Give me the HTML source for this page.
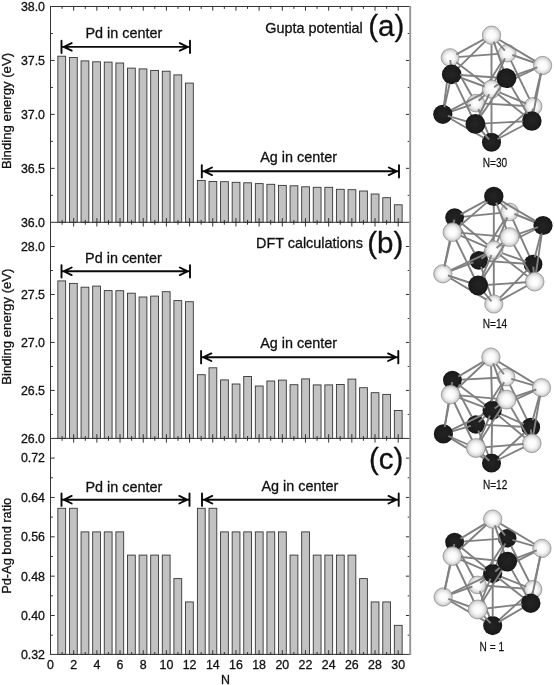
<!DOCTYPE html>
<html lang="en"><head><meta charset="utf-8"><title>Binding energy figure</title>
<style>html,body{margin:0;padding:0;background:#fff}body{width:554px;height:685px;overflow:hidden}svg{display:block}text{font-family:"Liberation Sans",Arial,Helvetica,sans-serif;fill:#111;stroke:#111;stroke-width:0.3px}</style></head><body>
<svg width="554" height="685" viewBox="0 0 554 685">
<defs>
<radialGradient id="gw" cx="50%" cy="50%" r="50%"><stop offset="0" stop-color="#ffffff"/><stop offset="0.45" stop-color="#f9f9f9"/><stop offset="0.72" stop-color="#e4e4e4"/><stop offset="0.9" stop-color="#cccccc"/><stop offset="1" stop-color="#b4b4b4"/></radialGradient>
<radialGradient id="gb" cx="50%" cy="50%" r="50%"><stop offset="0" stop-color="#242424"/><stop offset="0.8" stop-color="#1c1c1c"/><stop offset="1" stop-color="#161616"/></radialGradient>
</defs>
<rect width="554" height="685" fill="#fff"/>
<g fill="#c2c2c2" stroke="#363636" stroke-width="0.9">
<rect x="57.85" y="56.20" width="7.8" height="166.10"/>
<rect x="69.46" y="57.50" width="7.8" height="164.80"/>
<rect x="81.06" y="60.90" width="7.8" height="161.40"/>
<rect x="92.67" y="61.80" width="7.8" height="160.50"/>
<rect x="104.28" y="62.10" width="7.8" height="160.20"/>
<rect x="115.88" y="63.00" width="7.8" height="159.30"/>
<rect x="127.48" y="68.10" width="7.8" height="154.20"/>
<rect x="139.09" y="68.90" width="7.8" height="153.40"/>
<rect x="150.69" y="70.40" width="7.8" height="151.90"/>
<rect x="162.30" y="71.20" width="7.8" height="151.10"/>
<rect x="173.91" y="74.90" width="7.8" height="147.40"/>
<rect x="185.51" y="83.10" width="7.8" height="139.20"/>
<rect x="197.40" y="180.40" width="7.8" height="41.90"/>
<rect x="208.99" y="181.50" width="7.8" height="40.80"/>
<rect x="220.57" y="181.70" width="7.8" height="40.60"/>
<rect x="232.16" y="182.30" width="7.8" height="40.00"/>
<rect x="243.74" y="182.80" width="7.8" height="39.50"/>
<rect x="255.33" y="183.60" width="7.8" height="38.70"/>
<rect x="266.91" y="184.30" width="7.8" height="38.00"/>
<rect x="278.50" y="185.40" width="7.8" height="36.90"/>
<rect x="290.08" y="185.80" width="7.8" height="36.50"/>
<rect x="301.67" y="186.80" width="7.8" height="35.50"/>
<rect x="313.25" y="187.30" width="7.8" height="35.00"/>
<rect x="324.84" y="187.30" width="7.8" height="35.00"/>
<rect x="336.42" y="189.30" width="7.8" height="33.00"/>
<rect x="348.01" y="189.70" width="7.8" height="32.60"/>
<rect x="359.59" y="191.00" width="7.8" height="31.30"/>
<rect x="371.18" y="194.00" width="7.8" height="28.30"/>
<rect x="382.76" y="197.70" width="7.8" height="24.60"/>
<rect x="394.35" y="204.80" width="7.8" height="17.50"/>
<rect x="57.85" y="280.90" width="7.8" height="157.50"/>
<rect x="69.46" y="283.40" width="7.8" height="155.00"/>
<rect x="81.06" y="287.20" width="7.8" height="151.20"/>
<rect x="92.67" y="286.10" width="7.8" height="152.30"/>
<rect x="104.28" y="290.60" width="7.8" height="147.80"/>
<rect x="115.88" y="290.70" width="7.8" height="147.70"/>
<rect x="127.48" y="293.20" width="7.8" height="145.20"/>
<rect x="139.09" y="297.00" width="7.8" height="141.40"/>
<rect x="150.69" y="296.10" width="7.8" height="142.30"/>
<rect x="162.30" y="291.70" width="7.8" height="146.70"/>
<rect x="173.91" y="300.60" width="7.8" height="137.80"/>
<rect x="185.51" y="301.70" width="7.8" height="136.70"/>
<rect x="197.40" y="374.70" width="7.8" height="63.70"/>
<rect x="208.99" y="367.80" width="7.8" height="70.60"/>
<rect x="220.57" y="379.90" width="7.8" height="58.50"/>
<rect x="232.16" y="384.00" width="7.8" height="54.40"/>
<rect x="243.74" y="376.50" width="7.8" height="61.90"/>
<rect x="255.33" y="386.00" width="7.8" height="52.40"/>
<rect x="266.91" y="381.00" width="7.8" height="57.40"/>
<rect x="278.50" y="380.10" width="7.8" height="58.30"/>
<rect x="290.08" y="384.70" width="7.8" height="53.70"/>
<rect x="301.67" y="378.90" width="7.8" height="59.50"/>
<rect x="313.25" y="384.90" width="7.8" height="53.50"/>
<rect x="324.84" y="384.90" width="7.8" height="53.50"/>
<rect x="336.42" y="384.50" width="7.8" height="53.90"/>
<rect x="348.01" y="379.10" width="7.8" height="59.30"/>
<rect x="359.59" y="387.70" width="7.8" height="50.70"/>
<rect x="371.18" y="392.70" width="7.8" height="45.70"/>
<rect x="382.76" y="394.40" width="7.8" height="44.00"/>
<rect x="394.35" y="410.50" width="7.8" height="27.90"/>
<rect x="57.85" y="508.27" width="7.8" height="146.13"/>
<rect x="69.46" y="508.27" width="7.8" height="146.13"/>
<rect x="81.06" y="531.88" width="7.8" height="122.52"/>
<rect x="92.67" y="531.88" width="7.8" height="122.52"/>
<rect x="104.28" y="531.88" width="7.8" height="122.52"/>
<rect x="115.88" y="531.88" width="7.8" height="122.52"/>
<rect x="127.48" y="555.10" width="7.8" height="99.30"/>
<rect x="139.09" y="555.10" width="7.8" height="99.30"/>
<rect x="150.69" y="555.10" width="7.8" height="99.30"/>
<rect x="162.30" y="555.10" width="7.8" height="99.30"/>
<rect x="173.91" y="578.61" width="7.8" height="75.79"/>
<rect x="185.51" y="601.93" width="7.8" height="52.47"/>
<rect x="197.40" y="508.27" width="7.8" height="146.13"/>
<rect x="208.99" y="508.27" width="7.8" height="146.13"/>
<rect x="220.57" y="531.88" width="7.8" height="122.52"/>
<rect x="232.16" y="531.88" width="7.8" height="122.52"/>
<rect x="243.74" y="531.88" width="7.8" height="122.52"/>
<rect x="255.33" y="531.88" width="7.8" height="122.52"/>
<rect x="266.91" y="531.88" width="7.8" height="122.52"/>
<rect x="278.50" y="531.88" width="7.8" height="122.52"/>
<rect x="290.08" y="555.10" width="7.8" height="99.30"/>
<rect x="301.67" y="531.88" width="7.8" height="122.52"/>
<rect x="313.25" y="555.10" width="7.8" height="99.30"/>
<rect x="324.84" y="555.10" width="7.8" height="99.30"/>
<rect x="336.42" y="555.10" width="7.8" height="99.30"/>
<rect x="348.01" y="555.10" width="7.8" height="99.30"/>
<rect x="359.59" y="578.61" width="7.8" height="75.79"/>
<rect x="371.18" y="601.93" width="7.8" height="52.47"/>
<rect x="382.76" y="601.93" width="7.8" height="52.47"/>
<rect x="394.35" y="625.34" width="7.8" height="29.06"/>
</g>
<g stroke="#333" stroke-width="1" fill="none" stroke-linecap="butt">
<path d="M50.5 6.5V654.4M50.0 6.5H410.2M50.5 222.3H410.2M50.5 438.4H410.2M50.0 654.4H411.2"/>
<path d="M62.09 6.5v2.4M62.09 219.9v4.8M62.09 436.0v4.8M62.09 654.4v-2.4M73.68 6.5v4.2M73.68 218.10000000000002v8.4M73.68 434.2v8.4M73.68 654.4v-4.2M85.27 6.5v2.4M85.27 219.9v4.8M85.27 436.0v4.8M85.27 654.4v-2.4M96.86 6.5v4.2M96.86 218.10000000000002v8.4M96.86 434.2v8.4M96.86 654.4v-4.2M108.45 6.5v2.4M108.45 219.9v4.8M108.45 436.0v4.8M108.45 654.4v-2.4M120.04 6.5v4.2M120.04 218.10000000000002v8.4M120.04 434.2v8.4M120.04 654.4v-4.2M131.63 6.5v2.4M131.63 219.9v4.8M131.63 436.0v4.8M131.63 654.4v-2.4M143.22 6.5v4.2M143.22 218.10000000000002v8.4M143.22 434.2v8.4M143.22 654.4v-4.2M154.81 6.5v2.4M154.81 219.9v4.8M154.81 436.0v4.8M154.81 654.4v-2.4M166.40 6.5v4.2M166.40 218.10000000000002v8.4M166.40 434.2v8.4M166.40 654.4v-4.2M177.99 6.5v2.4M177.99 219.9v4.8M177.99 436.0v4.8M177.99 654.4v-2.4M189.58 6.5v4.2M189.58 218.10000000000002v8.4M189.58 434.2v8.4M189.58 654.4v-4.2M201.17 6.5v2.4M201.17 219.9v4.8M201.17 436.0v4.8M201.17 654.4v-2.4M212.76 6.5v4.2M212.76 218.10000000000002v8.4M212.76 434.2v8.4M212.76 654.4v-4.2M224.35 6.5v2.4M224.35 219.9v4.8M224.35 436.0v4.8M224.35 654.4v-2.4M235.94 6.5v4.2M235.94 218.10000000000002v8.4M235.94 434.2v8.4M235.94 654.4v-4.2M247.53 6.5v2.4M247.53 219.9v4.8M247.53 436.0v4.8M247.53 654.4v-2.4M259.12 6.5v4.2M259.12 218.10000000000002v8.4M259.12 434.2v8.4M259.12 654.4v-4.2M270.71 6.5v2.4M270.71 219.9v4.8M270.71 436.0v4.8M270.71 654.4v-2.4M282.30 6.5v4.2M282.30 218.10000000000002v8.4M282.30 434.2v8.4M282.30 654.4v-4.2M293.89 6.5v2.4M293.89 219.9v4.8M293.89 436.0v4.8M293.89 654.4v-2.4M305.48 6.5v4.2M305.48 218.10000000000002v8.4M305.48 434.2v8.4M305.48 654.4v-4.2M317.07 6.5v2.4M317.07 219.9v4.8M317.07 436.0v4.8M317.07 654.4v-2.4M328.66 6.5v4.2M328.66 218.10000000000002v8.4M328.66 434.2v8.4M328.66 654.4v-4.2M340.25 6.5v2.4M340.25 219.9v4.8M340.25 436.0v4.8M340.25 654.4v-2.4M351.84 6.5v4.2M351.84 218.10000000000002v8.4M351.84 434.2v8.4M351.84 654.4v-4.2M363.43 6.5v2.4M363.43 219.9v4.8M363.43 436.0v4.8M363.43 654.4v-2.4M375.02 6.5v4.2M375.02 218.10000000000002v8.4M375.02 434.2v8.4M375.02 654.4v-4.2M386.61 6.5v2.4M386.61 219.9v4.8M386.61 436.0v4.8M386.61 654.4v-2.4M398.20 6.5v4.2M398.20 218.10000000000002v8.4M398.20 434.2v8.4M398.20 654.4v-4.2"/>
<path d="M50.5 33.48h2.4M409.3 33.48h-1.6M50.5 60.45h4.2M409.3 60.45h-3.4M50.5 87.43h2.4M409.3 87.43h-1.6M50.5 114.40h4.2M409.3 114.40h-3.4M50.5 141.38h2.4M409.3 141.38h-1.6M50.5 168.35h4.2M409.3 168.35h-3.4M50.5 195.33h2.4M409.3 195.33h-1.6M50.5 246.50h4.2M409.3 246.50h-3.4M50.5 270.49h2.4M409.3 270.49h-1.6M50.5 294.48h4.2M409.3 294.48h-3.4M50.5 318.46h2.4M409.3 318.46h-1.6M50.5 342.45h4.2M409.3 342.45h-3.4M50.5 366.44h2.4M409.3 366.44h-1.6M50.5 390.42h4.2M409.3 390.42h-3.4M50.5 414.41h2.4M409.3 414.41h-1.6M50.5 458.10h4.2M409.3 458.10h-3.4M50.5 477.78h2.4M409.3 477.78h-1.6M50.5 497.45h4.2M409.3 497.45h-3.4M50.5 517.13h2.4M409.3 517.13h-1.6M50.5 536.80h4.2M409.3 536.80h-3.4M50.5 556.48h2.4M409.3 556.48h-1.6M50.5 576.16h4.2M409.3 576.16h-3.4M50.5 595.83h2.4M409.3 595.83h-1.6M50.5 615.51h4.2M409.3 615.51h-3.4M50.5 635.18h2.4M409.3 635.18h-1.6"/>
</g>
<path d="M410.2 6.0V654.9" stroke="#959595" stroke-width="1.9" fill="none"/>
<g font-size="12.4" text-anchor="end">
<text x="45" y="10.8">38.0</text>
<text x="45" y="64.8">37.5</text>
<text x="45" y="118.7">37.0</text>
<text x="45" y="172.7">36.5</text>
<text x="45" y="226.6">36.0</text>
<text x="45" y="250.6">28.0</text>
<text x="45" y="298.6">27.5</text>
<text x="45" y="346.6">27.0</text>
<text x="45" y="394.5">26.5</text>
<text x="45" y="442.5">26.0</text>
<text x="45" y="462.4">0.72</text>
<text x="45" y="501.8">0.64</text>
<text x="45" y="541.1">0.56</text>
<text x="45" y="580.5">0.48</text>
<text x="45" y="619.8">0.40</text>
<text x="45" y="659.2">0.32</text>
</g>
<g font-size="12.4" text-anchor="middle">
<text x="50.5" y="669.3">0</text>
<text x="73.7" y="669.3">2</text>
<text x="96.9" y="669.3">4</text>
<text x="120.0" y="669.3">6</text>
<text x="143.2" y="669.3">8</text>
<text x="166.4" y="669.3">10</text>
<text x="189.6" y="669.3">12</text>
<text x="212.8" y="669.3">14</text>
<text x="235.9" y="669.3">16</text>
<text x="259.1" y="669.3">18</text>
<text x="282.3" y="669.3">20</text>
<text x="305.5" y="669.3">22</text>
<text x="328.7" y="669.3">24</text>
<text x="351.8" y="669.3">26</text>
<text x="375.0" y="669.3">28</text>
<text x="398.2" y="669.3">30</text>
<text x="225.4" y="683.5">N</text>
</g>
<g font-size="13.15" text-anchor="middle">
<text transform="translate(10.8 111) rotate(-90)">Binding energy (eV)</text>
<text transform="translate(10.8 326.6) rotate(-90)">Binding energy (eV)</text>
<text transform="translate(10.8 545.8) rotate(-90)" font-size="12.8">Pd-Ag bond ratio</text>
</g>
<g font-size="14.4">
<text x="265.2" y="33.2">Gupta potential</text>
<text x="256" y="247.7">DFT calculations</text>
</g>
<g font-size="29.5">
<text x="368.3" y="36.2">(a)</text>
<text x="367.3" y="252.5">(b)</text>
<text x="369" y="469.2">(c)</text>
</g>
<path d="M61.5 40.699999999999996v12.4M190.0 40.699999999999996v12.4M62.7 46.9H188.8M71.7 43.1L63.8 46.9L71.7 50.699999999999996M179.8 43.1L187.7 46.9L179.8 50.699999999999996" stroke="#0a0a0a" stroke-width="1.9" fill="none" stroke-linecap="round" stroke-linejoin="miter"/>
<text x="123.8" y="37.9" font-size="14.4" text-anchor="middle">Pd in center</text>
<path d="M201.8 165.10000000000002v12.4M399.0 165.10000000000002v12.4M203.0 171.3H397.8M212.0 167.5L204.1 171.3L212.0 175.10000000000002M388.8 167.5L396.7 171.3L388.8 175.10000000000002" stroke="#0a0a0a" stroke-width="1.9" fill="none" stroke-linecap="round" stroke-linejoin="miter"/>
<text x="298.6" y="162.0" font-size="14.4" text-anchor="middle">Ag in center</text>
<path d="M61.5 265.1v12.4M190.0 265.1v12.4M62.7 271.3H188.8M71.7 267.5L63.8 271.3L71.7 275.1M179.8 267.5L187.7 271.3L179.8 275.1" stroke="#0a0a0a" stroke-width="1.9" fill="none" stroke-linecap="round" stroke-linejoin="miter"/>
<text x="123.5" y="262.8" font-size="14.4" text-anchor="middle">Pd in center</text>
<path d="M201.1 351.0v12.4M398.3 351.0v12.4M202.3 357.2H397.1M211.3 353.4L203.4 357.2L211.3 361.0M388.1 353.4L396.0 357.2L388.1 361.0" stroke="#0a0a0a" stroke-width="1.9" fill="none" stroke-linecap="round" stroke-linejoin="miter"/>
<text x="298.6" y="348.3" font-size="14.4" text-anchor="middle">Ag in center</text>
<path d="M61.5 493.5v12.4M189.5 493.5v12.4M62.7 499.7H188.3M71.7 495.9L63.8 499.7L71.7 503.5M179.3 495.9L187.2 499.7L179.3 503.5" stroke="#0a0a0a" stroke-width="1.9" fill="none" stroke-linecap="round" stroke-linejoin="miter"/>
<text x="123.8" y="491.9" font-size="14.4" text-anchor="middle">Pd in center</text>
<path d="M202.0 493.5v12.4M398.7 493.5v12.4M203.2 499.7H397.5M212.2 495.9L204.3 499.7L212.2 503.5M388.5 495.9L396.4 499.7L388.5 503.5" stroke="#0a0a0a" stroke-width="1.9" fill="none" stroke-linecap="round" stroke-linejoin="miter"/>
<text x="299.8" y="491.2" font-size="14.4" text-anchor="middle">Ag in center</text>
<g>
<line x1="502.4" y1="60.8" x2="475.9" y2="103.1" stroke="#808080" stroke-width="1.9"/>
<circle cx="507.2" cy="53.2" r="8.84" fill="url(#gw)" stroke="#959595" stroke-width="0.8"/>
<circle cx="475.9" cy="103.1" r="8.84" fill="url(#gw)" stroke="#959595" stroke-width="0.8"/>
<line x1="498.6" y1="53.9" x2="450.1" y2="57.6" stroke="#808080" stroke-width="1.9"/>
<line x1="511.0" y1="60.9" x2="533.0" y2="106.4" stroke="#808080" stroke-width="1.9"/>
<line x1="471.7" y1="95.7" x2="450.1" y2="57.6" stroke="#808080" stroke-width="1.9"/>
<line x1="484.5" y1="103.6" x2="533.0" y2="106.4" stroke="#808080" stroke-width="1.9"/>
<circle cx="450.1" cy="57.6" r="8.96" fill="url(#gw)" stroke="#959595" stroke-width="0.8"/>
<circle cx="533.0" cy="106.4" r="8.96" fill="url(#gw)" stroke="#959595" stroke-width="0.8"/>
<line x1="478.3" y1="109.1" x2="491.5" y2="142.2" stroke="#808080" stroke-width="1.9"/>
<line x1="512.4" y1="55.0" x2="542.6" y2="65.5" stroke="#808080" stroke-width="1.9"/>
<line x1="470.9" y1="104.8" x2="442.8" y2="114.3" stroke="#808080" stroke-width="1.9"/>
<line x1="504.9" y1="58.4" x2="491.5" y2="89.1" stroke="#808080" stroke-width="1.9"/>
<line x1="478.6" y1="100.7" x2="491.5" y2="89.1" stroke="#808080" stroke-width="1.9"/>
<line x1="504.9" y1="50.6" x2="491.5" y2="35.2" stroke="#808080" stroke-width="1.9"/>
<line x1="526.7" y1="111.9" x2="491.5" y2="142.2" stroke="#808080" stroke-width="1.9"/>
<line x1="534.7" y1="99.2" x2="542.6" y2="65.5" stroke="#808080" stroke-width="1.9"/>
<line x1="449.1" y1="65.5" x2="442.8" y2="114.3" stroke="#808080" stroke-width="1.9"/>
<line x1="456.3" y1="62.3" x2="491.5" y2="89.1" stroke="#808080" stroke-width="1.9"/>
<line x1="526.1" y1="103.5" x2="491.5" y2="89.1" stroke="#808080" stroke-width="1.9"/>
<line x1="456.3" y1="54.3" x2="491.5" y2="35.2" stroke="#808080" stroke-width="1.9"/>
<circle cx="491.5" cy="142.2" r="9.55" fill="url(#gb)"/>
<line x1="483.7" y1="137.8" x2="442.8" y2="114.3" stroke="#808080" stroke-width="1.9"/>
<line x1="491.5" y1="133.3" x2="491.5" y2="89.1" stroke="#808080" stroke-width="1.9"/>
<line x1="450.3" y1="60.0" x2="451.7" y2="74.4" stroke="#808080" stroke-width="1.9"/>
<line x1="532.8" y1="108.5" x2="531.8" y2="121.0" stroke="#808080" stroke-width="1.9"/>
<line x1="499.7" y1="85.3" x2="542.6" y2="65.5" stroke="#808080" stroke-width="1.9"/>
<line x1="483.5" y1="93.2" x2="442.8" y2="114.3" stroke="#808080" stroke-width="1.9"/>
<circle cx="542.6" cy="65.5" r="9.15" fill="url(#gw)" stroke="#959595" stroke-width="0.8"/>
<circle cx="491.5" cy="89.1" r="9.15" fill="url(#gw)" stroke="#959595" stroke-width="0.8"/>
<circle cx="442.8" cy="114.3" r="9.60" fill="url(#gb)"/>
<line x1="534.9" y1="60.9" x2="491.5" y2="35.2" stroke="#808080" stroke-width="1.9"/>
<line x1="491.5" y1="80.2" x2="491.5" y2="35.2" stroke="#808080" stroke-width="1.9"/>
<circle cx="491.5" cy="35.2" r="9.20" fill="url(#gw)" stroke="#959595" stroke-width="0.8"/>
<line x1="497.6" y1="139.0" x2="531.8" y2="121.0" stroke="#808080" stroke-width="1.9"/>
<line x1="541.1" y1="73.3" x2="531.8" y2="121.0" stroke="#808080" stroke-width="1.9"/>
<line x1="444.4" y1="107.2" x2="451.7" y2="74.4" stroke="#808080" stroke-width="1.9"/>
<line x1="484.6" y1="86.5" x2="451.7" y2="74.4" stroke="#808080" stroke-width="1.9"/>
<line x1="497.6" y1="93.9" x2="531.8" y2="121.0" stroke="#808080" stroke-width="1.9"/>
<line x1="485.5" y1="41.1" x2="451.7" y2="74.4" stroke="#808080" stroke-width="1.9"/>
<line x1="489.1" y1="139.5" x2="475.4" y2="123.9" stroke="#808080" stroke-width="1.9"/>
<line x1="537.3" y1="67.4" x2="506.5" y2="78.2" stroke="#808080" stroke-width="1.9"/>
<line x1="447.8" y1="115.8" x2="475.4" y2="123.9" stroke="#808080" stroke-width="1.9"/>
<line x1="494.1" y1="87.2" x2="506.5" y2="78.2" stroke="#808080" stroke-width="1.9"/>
<line x1="489.1" y1="94.2" x2="475.4" y2="123.9" stroke="#808080" stroke-width="1.9"/>
<line x1="493.7" y1="41.6" x2="506.5" y2="78.2" stroke="#808080" stroke-width="1.9"/>
<circle cx="451.7" cy="74.4" r="9.79" fill="url(#gb)"/>
<circle cx="531.8" cy="121.0" r="9.79" fill="url(#gb)"/>
<line x1="460.2" y1="75.0" x2="506.5" y2="78.2" stroke="#808080" stroke-width="1.9"/>
<line x1="455.4" y1="82.1" x2="475.4" y2="123.9" stroke="#808080" stroke-width="1.9"/>
<line x1="527.5" y1="113.7" x2="506.5" y2="78.2" stroke="#808080" stroke-width="1.9"/>
<line x1="523.2" y1="121.4" x2="475.4" y2="123.9" stroke="#808080" stroke-width="1.9"/>
<line x1="501.4" y1="85.7" x2="475.4" y2="123.9" stroke="#808080" stroke-width="1.9"/>
<circle cx="506.5" cy="78.2" r="9.91" fill="url(#gb)"/>
<circle cx="475.4" cy="123.9" r="9.91" fill="url(#gb)"/>
</g>
<text transform="translate(495 166.7) scale(0.76 1)" font-size="13.3" text-anchor="middle" style="stroke-width:0.25px">N=30</text>
<g>
<line x1="504.7" y1="219.6" x2="478.8" y2="260.4" stroke="#808080" stroke-width="1.9"/>
<circle cx="509.5" cy="212.0" r="8.84" fill="url(#gw)" stroke="#959595" stroke-width="0.8"/>
<circle cx="478.8" cy="260.4" r="9.29" fill="url(#gb)"/>
<line x1="501.0" y1="212.9" x2="454.6" y2="217.6" stroke="#808080" stroke-width="1.9"/>
<line x1="513.0" y1="219.8" x2="533.0" y2="264.2" stroke="#808080" stroke-width="1.9"/>
<line x1="474.6" y1="253.0" x2="454.6" y2="217.6" stroke="#808080" stroke-width="1.9"/>
<line x1="487.3" y1="261.0" x2="533.0" y2="264.2" stroke="#808080" stroke-width="1.9"/>
<circle cx="454.6" cy="217.6" r="9.41" fill="url(#gb)"/>
<circle cx="533.0" cy="264.2" r="9.41" fill="url(#gb)"/>
<line x1="481.0" y1="266.8" x2="493.8" y2="304.0" stroke="#808080" stroke-width="1.9"/>
<line x1="514.5" y1="214.0" x2="543.0" y2="225.5" stroke="#808080" stroke-width="1.9"/>
<line x1="473.5" y1="262.4" x2="442.8" y2="273.8" stroke="#808080" stroke-width="1.9"/>
<line x1="507.3" y1="217.4" x2="493.8" y2="250.1" stroke="#808080" stroke-width="1.9"/>
<line x1="481.4" y1="258.6" x2="493.8" y2="250.1" stroke="#808080" stroke-width="1.9"/>
<line x1="507.2" y1="209.7" x2="493.8" y2="196.4" stroke="#808080" stroke-width="1.9"/>
<line x1="527.1" y1="270.2" x2="493.8" y2="304.0" stroke="#808080" stroke-width="1.9"/>
<line x1="534.8" y1="257.2" x2="543.0" y2="225.5" stroke="#808080" stroke-width="1.9"/>
<line x1="453.0" y1="225.4" x2="442.8" y2="273.8" stroke="#808080" stroke-width="1.9"/>
<line x1="460.6" y1="222.6" x2="493.8" y2="250.1" stroke="#808080" stroke-width="1.9"/>
<line x1="526.1" y1="261.7" x2="493.8" y2="250.1" stroke="#808080" stroke-width="1.9"/>
<line x1="460.6" y1="214.3" x2="493.8" y2="196.4" stroke="#808080" stroke-width="1.9"/>
<circle cx="493.8" cy="304.0" r="9.10" fill="url(#gw)" stroke="#959595" stroke-width="0.8"/>
<line x1="486.1" y1="299.4" x2="442.8" y2="273.8" stroke="#808080" stroke-width="1.9"/>
<line x1="493.8" y1="295.1" x2="493.8" y2="250.1" stroke="#808080" stroke-width="1.9"/>
<line x1="454.3" y1="219.7" x2="452.4" y2="232.2" stroke="#808080" stroke-width="1.9"/>
<line x1="533.2" y1="266.7" x2="534.7" y2="281.7" stroke="#808080" stroke-width="1.9"/>
<line x1="501.9" y1="246.1" x2="543.0" y2="225.5" stroke="#808080" stroke-width="1.9"/>
<line x1="485.6" y1="253.9" x2="442.8" y2="273.8" stroke="#808080" stroke-width="1.9"/>
<circle cx="543.0" cy="225.5" r="9.60" fill="url(#gb)"/>
<circle cx="493.8" cy="250.1" r="9.15" fill="url(#gw)" stroke="#959595" stroke-width="0.8"/>
<circle cx="442.8" cy="273.8" r="9.15" fill="url(#gw)" stroke="#959595" stroke-width="0.8"/>
<line x1="535.3" y1="220.9" x2="493.8" y2="196.4" stroke="#808080" stroke-width="1.9"/>
<line x1="493.8" y1="241.2" x2="493.8" y2="196.4" stroke="#808080" stroke-width="1.9"/>
<circle cx="493.8" cy="196.4" r="9.65" fill="url(#gb)"/>
<line x1="499.9" y1="300.7" x2="534.7" y2="281.7" stroke="#808080" stroke-width="1.9"/>
<line x1="541.8" y1="233.4" x2="534.7" y2="281.7" stroke="#808080" stroke-width="1.9"/>
<line x1="444.5" y1="266.6" x2="452.4" y2="232.2" stroke="#808080" stroke-width="1.9"/>
<line x1="486.9" y1="247.1" x2="452.4" y2="232.2" stroke="#808080" stroke-width="1.9"/>
<line x1="500.0" y1="254.9" x2="534.7" y2="281.7" stroke="#808080" stroke-width="1.9"/>
<line x1="487.5" y1="201.9" x2="452.4" y2="232.2" stroke="#808080" stroke-width="1.9"/>
<line x1="491.5" y1="301.3" x2="478.1" y2="285.5" stroke="#808080" stroke-width="1.9"/>
<line x1="538.0" y1="227.2" x2="509.5" y2="237.1" stroke="#808080" stroke-width="1.9"/>
<line x1="448.0" y1="275.5" x2="478.1" y2="285.5" stroke="#808080" stroke-width="1.9"/>
<line x1="496.5" y1="247.9" x2="509.5" y2="237.1" stroke="#808080" stroke-width="1.9"/>
<line x1="491.5" y1="255.2" x2="478.1" y2="285.5" stroke="#808080" stroke-width="1.9"/>
<line x1="496.2" y1="202.6" x2="509.5" y2="237.1" stroke="#808080" stroke-width="1.9"/>
<circle cx="452.4" cy="232.2" r="9.34" fill="url(#gw)" stroke="#959595" stroke-width="0.8"/>
<circle cx="534.7" cy="281.7" r="9.34" fill="url(#gw)" stroke="#959595" stroke-width="0.8"/>
<line x1="461.0" y1="232.9" x2="509.5" y2="237.1" stroke="#808080" stroke-width="1.9"/>
<line x1="456.1" y1="240.0" x2="478.1" y2="285.5" stroke="#808080" stroke-width="1.9"/>
<line x1="530.5" y1="274.3" x2="509.5" y2="237.1" stroke="#808080" stroke-width="1.9"/>
<line x1="526.1" y1="282.3" x2="478.1" y2="285.5" stroke="#808080" stroke-width="1.9"/>
<line x1="504.6" y1="244.7" x2="478.1" y2="285.5" stroke="#808080" stroke-width="1.9"/>
<circle cx="509.5" cy="237.1" r="9.46" fill="url(#gw)" stroke="#959595" stroke-width="0.8"/>
<circle cx="478.1" cy="285.5" r="9.91" fill="url(#gb)"/>
</g>
<text transform="translate(494.9 328) scale(0.76 1)" font-size="13.3" text-anchor="middle" style="stroke-width:0.25px">N=14</text>
<g>
<line x1="501.2" y1="384.8" x2="475.9" y2="424.5" stroke="#808080" stroke-width="1.9"/>
<circle cx="506.1" cy="377.2" r="8.84" fill="url(#gw)" stroke="#959595" stroke-width="0.8"/>
<circle cx="475.9" cy="424.5" r="9.29" fill="url(#gb)"/>
<line x1="497.6" y1="377.7" x2="452.4" y2="380.1" stroke="#808080" stroke-width="1.9"/>
<line x1="509.9" y1="384.9" x2="530.7" y2="427.2" stroke="#808080" stroke-width="1.9"/>
<line x1="471.9" y1="417.0" x2="452.4" y2="380.1" stroke="#808080" stroke-width="1.9"/>
<line x1="484.4" y1="424.9" x2="530.7" y2="427.2" stroke="#808080" stroke-width="1.9"/>
<circle cx="452.4" cy="380.1" r="9.41" fill="url(#gb)"/>
<circle cx="530.7" cy="427.2" r="9.41" fill="url(#gb)"/>
<line x1="478.3" y1="430.5" x2="491.5" y2="463.0" stroke="#808080" stroke-width="1.9"/>
<line x1="511.3" y1="378.8" x2="541.5" y2="387.7" stroke="#808080" stroke-width="1.9"/>
<line x1="470.9" y1="425.9" x2="443.4" y2="433.9" stroke="#808080" stroke-width="1.9"/>
<line x1="504.0" y1="382.2" x2="492.2" y2="410.3" stroke="#808080" stroke-width="1.9"/>
<line x1="478.7" y1="422.1" x2="492.2" y2="410.3" stroke="#808080" stroke-width="1.9"/>
<line x1="503.9" y1="374.3" x2="490.9" y2="357.1" stroke="#808080" stroke-width="1.9"/>
<line x1="524.5" y1="432.8" x2="491.5" y2="463.0" stroke="#808080" stroke-width="1.9"/>
<line x1="532.6" y1="420.2" x2="541.5" y2="387.7" stroke="#808080" stroke-width="1.9"/>
<line x1="451.1" y1="387.9" x2="443.4" y2="433.9" stroke="#808080" stroke-width="1.9"/>
<line x1="458.6" y1="384.8" x2="492.2" y2="410.3" stroke="#808080" stroke-width="1.9"/>
<line x1="524.0" y1="424.2" x2="492.2" y2="410.3" stroke="#808080" stroke-width="1.9"/>
<line x1="458.3" y1="376.6" x2="490.9" y2="357.1" stroke="#808080" stroke-width="1.9"/>
<circle cx="491.5" cy="463.0" r="9.55" fill="url(#gb)"/>
<line x1="483.9" y1="458.4" x2="443.4" y2="433.9" stroke="#808080" stroke-width="1.9"/>
<line x1="491.6" y1="454.1" x2="492.2" y2="410.3" stroke="#808080" stroke-width="1.9"/>
<line x1="452.1" y1="382.2" x2="450.6" y2="394.7" stroke="#808080" stroke-width="1.9"/>
<line x1="530.9" y1="429.5" x2="531.8" y2="443.3" stroke="#808080" stroke-width="1.9"/>
<line x1="500.4" y1="406.5" x2="541.5" y2="387.7" stroke="#808080" stroke-width="1.9"/>
<line x1="484.1" y1="414.2" x2="443.4" y2="433.9" stroke="#808080" stroke-width="1.9"/>
<circle cx="541.5" cy="387.7" r="9.15" fill="url(#gw)" stroke="#959595" stroke-width="0.8"/>
<circle cx="492.2" cy="410.3" r="9.60" fill="url(#gb)"/>
<circle cx="443.4" cy="433.9" r="9.60" fill="url(#gb)"/>
<line x1="533.8" y1="383.1" x2="490.9" y2="357.1" stroke="#808080" stroke-width="1.9"/>
<line x1="492.0" y1="401.4" x2="490.9" y2="357.1" stroke="#808080" stroke-width="1.9"/>
<circle cx="490.9" cy="357.1" r="9.20" fill="url(#gw)" stroke="#959595" stroke-width="0.8"/>
<line x1="497.7" y1="460.0" x2="531.8" y2="443.3" stroke="#808080" stroke-width="1.9"/>
<line x1="540.1" y1="395.6" x2="531.8" y2="443.3" stroke="#808080" stroke-width="1.9"/>
<line x1="444.7" y1="426.8" x2="450.6" y2="394.7" stroke="#808080" stroke-width="1.9"/>
<line x1="485.2" y1="407.7" x2="450.6" y2="394.7" stroke="#808080" stroke-width="1.9"/>
<line x1="498.2" y1="415.3" x2="531.8" y2="443.3" stroke="#808080" stroke-width="1.9"/>
<line x1="484.8" y1="362.8" x2="450.6" y2="394.7" stroke="#808080" stroke-width="1.9"/>
<line x1="489.2" y1="460.8" x2="475.9" y2="448.0" stroke="#808080" stroke-width="1.9"/>
<line x1="536.3" y1="389.5" x2="506.5" y2="399.6" stroke="#808080" stroke-width="1.9"/>
<line x1="448.3" y1="436.0" x2="475.9" y2="448.0" stroke="#808080" stroke-width="1.9"/>
<line x1="494.7" y1="408.4" x2="506.5" y2="399.6" stroke="#808080" stroke-width="1.9"/>
<line x1="489.9" y1="415.7" x2="475.9" y2="448.0" stroke="#808080" stroke-width="1.9"/>
<line x1="493.2" y1="363.4" x2="506.5" y2="399.6" stroke="#808080" stroke-width="1.9"/>
<circle cx="450.6" cy="394.7" r="9.34" fill="url(#gw)" stroke="#959595" stroke-width="0.8"/>
<circle cx="531.8" cy="443.3" r="9.34" fill="url(#gw)" stroke="#959595" stroke-width="0.8"/>
<line x1="459.1" y1="395.4" x2="506.5" y2="399.6" stroke="#808080" stroke-width="1.9"/>
<line x1="454.3" y1="402.5" x2="475.9" y2="448.0" stroke="#808080" stroke-width="1.9"/>
<line x1="527.6" y1="436.0" x2="506.5" y2="399.6" stroke="#808080" stroke-width="1.9"/>
<line x1="523.3" y1="444.0" x2="475.9" y2="448.0" stroke="#808080" stroke-width="1.9"/>
<line x1="501.7" y1="407.2" x2="475.9" y2="448.0" stroke="#808080" stroke-width="1.9"/>
<circle cx="506.5" cy="399.6" r="9.46" fill="url(#gw)" stroke="#959595" stroke-width="0.8"/>
<circle cx="475.9" cy="448.0" r="9.46" fill="url(#gw)" stroke="#959595" stroke-width="0.8"/>
</g>
<text transform="translate(495.1 488.8) scale(0.76 1)" font-size="13.3" text-anchor="middle" style="stroke-width:0.25px">N=12</text>
<g>
<line x1="502.3" y1="545.9" x2="477.4" y2="584.9" stroke="#808080" stroke-width="1.9"/>
<circle cx="507.2" cy="538.3" r="9.29" fill="url(#gb)"/>
<circle cx="477.4" cy="584.9" r="8.84" fill="url(#gw)" stroke="#959595" stroke-width="0.8"/>
<line x1="498.7" y1="538.9" x2="454.6" y2="542.1" stroke="#808080" stroke-width="1.9"/>
<line x1="511.1" y1="546.0" x2="533.0" y2="589.3" stroke="#808080" stroke-width="1.9"/>
<line x1="473.4" y1="577.5" x2="454.6" y2="542.1" stroke="#808080" stroke-width="1.9"/>
<line x1="485.9" y1="585.6" x2="533.0" y2="589.3" stroke="#808080" stroke-width="1.9"/>
<circle cx="454.6" cy="542.1" r="9.41" fill="url(#gb)"/>
<circle cx="533.0" cy="589.3" r="8.96" fill="url(#gw)" stroke="#959595" stroke-width="0.8"/>
<line x1="479.7" y1="591.1" x2="492.7" y2="625.6" stroke="#808080" stroke-width="1.9"/>
<line x1="512.4" y1="539.8" x2="541.9" y2="548.4" stroke="#808080" stroke-width="1.9"/>
<line x1="472.3" y1="586.7" x2="443.2" y2="597.0" stroke="#808080" stroke-width="1.9"/>
<line x1="505.1" y1="543.5" x2="492.7" y2="573.5" stroke="#808080" stroke-width="1.9"/>
<line x1="480.0" y1="582.9" x2="492.7" y2="573.5" stroke="#808080" stroke-width="1.9"/>
<line x1="505.1" y1="535.5" x2="492.7" y2="519.1" stroke="#808080" stroke-width="1.9"/>
<line x1="526.8" y1="594.9" x2="492.7" y2="625.6" stroke="#808080" stroke-width="1.9"/>
<line x1="534.6" y1="582.1" x2="541.9" y2="548.4" stroke="#808080" stroke-width="1.9"/>
<line x1="453.0" y1="549.9" x2="443.2" y2="597.0" stroke="#808080" stroke-width="1.9"/>
<line x1="460.6" y1="547.0" x2="492.7" y2="573.5" stroke="#808080" stroke-width="1.9"/>
<line x1="526.1" y1="586.6" x2="492.7" y2="573.5" stroke="#808080" stroke-width="1.9"/>
<line x1="460.5" y1="538.6" x2="492.7" y2="519.1" stroke="#808080" stroke-width="1.9"/>
<circle cx="492.7" cy="625.6" r="9.55" fill="url(#gb)"/>
<line x1="485.0" y1="621.1" x2="443.2" y2="597.0" stroke="#808080" stroke-width="1.9"/>
<line x1="492.7" y1="616.7" x2="492.7" y2="573.5" stroke="#808080" stroke-width="1.9"/>
<line x1="454.3" y1="544.2" x2="452.4" y2="556.2" stroke="#808080" stroke-width="1.9"/>
<line x1="532.7" y1="591.3" x2="530.7" y2="603.2" stroke="#808080" stroke-width="1.9"/>
<line x1="500.7" y1="569.4" x2="541.9" y2="548.4" stroke="#808080" stroke-width="1.9"/>
<line x1="484.5" y1="577.4" x2="443.2" y2="597.0" stroke="#808080" stroke-width="1.9"/>
<circle cx="541.9" cy="548.4" r="9.15" fill="url(#gw)" stroke="#959595" stroke-width="0.8"/>
<circle cx="492.7" cy="573.5" r="9.60" fill="url(#gb)"/>
<circle cx="443.2" cy="597.0" r="9.15" fill="url(#gw)" stroke="#959595" stroke-width="0.8"/>
<line x1="534.2" y1="543.8" x2="492.7" y2="519.1" stroke="#808080" stroke-width="1.9"/>
<line x1="492.7" y1="564.6" x2="492.7" y2="519.1" stroke="#808080" stroke-width="1.9"/>
<circle cx="492.7" cy="519.1" r="9.20" fill="url(#gw)" stroke="#959595" stroke-width="0.8"/>
<line x1="498.6" y1="622.1" x2="530.7" y2="603.2" stroke="#808080" stroke-width="1.9"/>
<line x1="540.3" y1="556.2" x2="530.7" y2="603.2" stroke="#808080" stroke-width="1.9"/>
<line x1="444.8" y1="589.8" x2="452.4" y2="556.2" stroke="#808080" stroke-width="1.9"/>
<line x1="485.9" y1="570.6" x2="452.4" y2="556.2" stroke="#808080" stroke-width="1.9"/>
<line x1="498.7" y1="578.2" x2="530.7" y2="603.2" stroke="#808080" stroke-width="1.9"/>
<line x1="486.5" y1="524.8" x2="452.4" y2="556.2" stroke="#808080" stroke-width="1.9"/>
<line x1="490.5" y1="623.2" x2="477.7" y2="609.5" stroke="#808080" stroke-width="1.9"/>
<line x1="536.8" y1="550.4" x2="507.2" y2="561.6" stroke="#808080" stroke-width="1.9"/>
<line x1="448.3" y1="598.9" x2="477.7" y2="609.5" stroke="#808080" stroke-width="1.9"/>
<line x1="495.2" y1="571.4" x2="507.2" y2="561.6" stroke="#808080" stroke-width="1.9"/>
<line x1="490.5" y1="578.7" x2="477.7" y2="609.5" stroke="#808080" stroke-width="1.9"/>
<line x1="494.9" y1="525.4" x2="507.2" y2="561.6" stroke="#808080" stroke-width="1.9"/>
<circle cx="452.4" cy="556.2" r="9.34" fill="url(#gw)" stroke="#959595" stroke-width="0.8"/>
<circle cx="530.7" cy="603.2" r="9.79" fill="url(#gb)"/>
<line x1="460.9" y1="557.0" x2="507.2" y2="561.6" stroke="#808080" stroke-width="1.9"/>
<line x1="456.1" y1="564.0" x2="477.7" y2="609.5" stroke="#808080" stroke-width="1.9"/>
<line x1="526.6" y1="595.9" x2="507.2" y2="561.6" stroke="#808080" stroke-width="1.9"/>
<line x1="522.2" y1="604.2" x2="477.7" y2="609.5" stroke="#808080" stroke-width="1.9"/>
<line x1="502.5" y1="569.3" x2="477.7" y2="609.5" stroke="#808080" stroke-width="1.9"/>
<circle cx="507.2" cy="561.6" r="9.91" fill="url(#gb)"/>
<circle cx="477.7" cy="609.5" r="9.46" fill="url(#gw)" stroke="#959595" stroke-width="0.8"/>
</g>
<text transform="translate(491.8 650.9) scale(0.76 1)" font-size="13.3" text-anchor="middle" style="stroke-width:0.25px">N = 1</text>
</svg></body></html>
